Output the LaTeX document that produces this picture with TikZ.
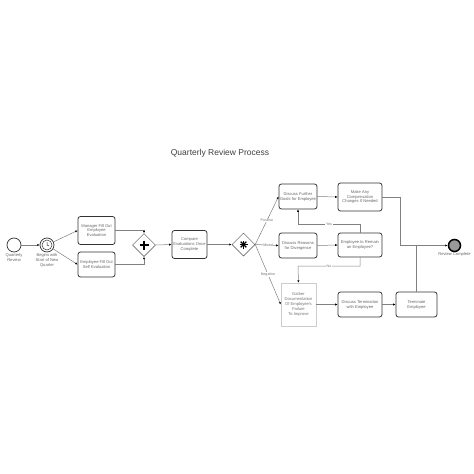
\documentclass[tikz,border=0pt]{standalone}
\usepackage{fontspec}
\setmainfont{Liberation Sans}
\usetikzlibrary{arrows.meta,shapes.geometric,calc}
\newcommand{\smallfs}{\fontsize{4.1}{4.9}\selectfont}
\newcommand{\lblfs}{\fontsize{3.6}{4.2}\selectfont}
\begin{document}
\begin{tikzpicture}[x=1pt,y=-1pt,
  task/.style={draw=black!80, line width=0.8pt, rounded corners=2.5pt, fill=white,
    align=center, font=\smallfs, text=black!60, inner sep=0pt},
  ghost/.style={draw=black!20, line width=0.5pt, fill=white,
    align=center, font=\smallfs, text=black!55, inner sep=0pt},
  gate/.style={draw=black!70, line width=0.5pt, diamond, aspect=1, fill=white,
    minimum size=23pt, inner sep=0pt},
  evt/.style={circle, draw=black!80, line width=0.7pt, fill=white, inner sep=0pt},
  flow/.style={draw=black!50, line width=0.5pt, -{Latex[length=2.4pt,width=2.2pt,color=black]}},
  plain/.style={draw=black!50, line width=0.5pt},
  lbl/.style={font=\lblfs, text=black!55, fill=white, inner sep=0.6pt},
  evlabel/.style={font=\smallfs, text=black!60, align=center, inner sep=0pt}]
\useasboundingbox (0,0) rectangle (474,474);
\fill[white] (0,0) rectangle (474,474);

\node[font=\fontsize{8.5}{10}\selectfont, text=black!75] (title) at (220,153) {Quarterly Review Process};

% events
\node[evt, minimum size=14pt] (start) at (14,245) {};
\node[evlabel, anchor=north] (startlbl) at (14,253.3) {Quarterly\\Review};
\node[evt, minimum size=14pt] (timer) at (47,245) {};
\node[evt, minimum size=10pt, line width=0.5pt] (timerin) at (47,245) {};
\draw[black!80, line width=0.5pt] (timer.center) -- ++(0,-3) (timer.center) -- ++(2,1);
\node[evlabel, anchor=north] (timerlbl) at (47,253.5) {Begins with\\Start of New\\Quarter};

% tasks
\node[task, minimum width=37pt, minimum height=28pt] (t1) at (96.5,230.5) {Manager Fill Out\\Employee\\Evaluation};
\node[task, minimum width=37pt, minimum height=25pt] (t2) at (96.5,264.5) {Employee Fill Out\\Self Evaluation};
\node[gate] (pg) at (144,245) {};
\draw[black, line width=1.4pt] (144,240.5) -- (144,249.5) (139.5,245) -- (148.5,245);
\node[task, minimum width=35pt, minimum height=28pt] (cmp) at (189.5,244.5) {Compare\\Evaluations Once\\Complete};
\node[gate] (cg) at (243.5,244.5) {};
\foreach \a in {0,45,90,135} {
  \draw[black, line width=1.2pt] ($(cg.center)+(\a:4)$) -- ($(cg.center)+(\a+180:4)$);
}
\node[task, minimum width=38pt, minimum height=25pt] (dfg) at (298,196.5) {Discuss Further\\Goals for Employee};
\node[task, minimum width=38pt, minimum height=25pt] (drd) at (298,245.5) {Discuss Reasons\\for Divergence};
\node[ghost, minimum width=35pt, minimum height=43pt] (gat) at (298.5,304.5) {Gather\\Documentation\\Of Employee's\\Failure\\To Improve};
\node[task, minimum width=44pt, minimum height=28pt] (mac) at (360,197) {Make Any\\Compensation\\Changes If Needed};
\node[task, minimum width=44pt, minimum height=24pt] (ere) at (360,245) {Employee to Remain\\an Employee?};
\node[task, minimum width=44pt, minimum height=25pt] (dte) at (360,304.5) {Discuss Termination\\with Employee};
\node[task, minimum width=41pt, minimum height=25pt] (te) at (416.5,304.5) {Terminate\\Employee};
\node[circle, draw=black, line width=1.5pt, fill=black!40, minimum size=12pt, inner sep=0pt] (end) at (454.5,245.5) {};
\node[evlabel, anchor=north] (endlbl) at (454.5,252.5) {Review Complete};

% coordinates
\coordinate (yesc) at (298,224);
\coordinate (noc) at (298,266);
\coordinate (jn) at (400,245.5);

% flows
\draw[flow] (start) -- (timer);
\draw[flow] (timer) -- (t1.west);
\draw[flow] (timer) -- (t2.west);
\draw[flow] (t1.east) -| (pg.north);
\draw[flow] (t2.east) -| (pg.south);
\draw[flow] (pg.east) -- (cmp.west);
\draw[flow] (cmp.east) -- (cg.west);
\draw[flow] (cg.east) -- node[lbl, pos=0.5] {Positive} (dfg.west);
\draw[flow] (cg.east) -- node[lbl, pos=0.55] {Mixed} (drd.west);
\draw[flow] (cg.east) -- node[lbl, pos=0.5] {Negative} (gat.west);
\draw[flow] (dfg.east) -- (mac.west);
\draw[flow] (drd.east) -- (ere.west);
\draw[flow] (gat.east) -- (dte.west);
\draw[flow] (dte.east) -- (te.west);
\draw[flow] (ere.north) |- node[lbl, pos=0.75] {Yes} (yesc) -- (dfg.south);
\draw[flow] (ere.south) |- node[lbl, pos=0.75] {No} (noc) -- (gat.north);
\draw[flow] (mac.east) -| (jn) -- (end);
\draw[plain] (te.north) -- (te.north |- jn);
\end{tikzpicture}
\end{document}
